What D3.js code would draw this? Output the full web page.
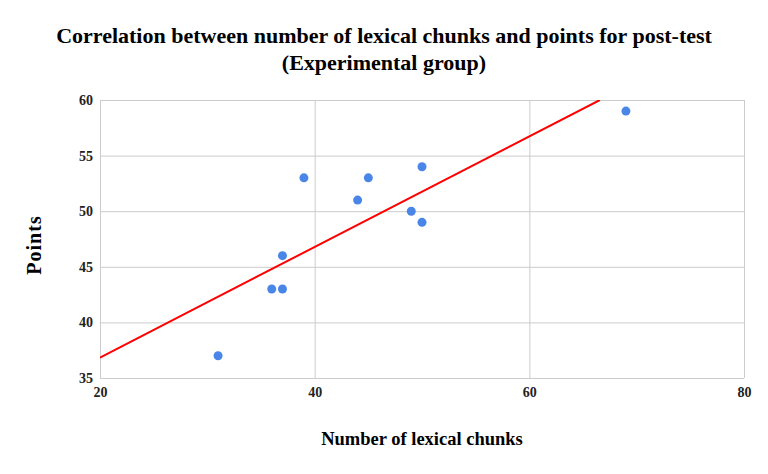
<!DOCTYPE html>
<html>
<head>
<meta charset="utf-8">
<script src="https://cdn.jsdelivr.net/npm/d3@7"></script>
<style>
  html, body { margin: 0; padding: 0; background: #fff; }
  svg { display: block; }
  text { font-family: "Liberation Serif", "DejaVu Serif", serif; fill: #000; }
</style>
</head>
<body>
<svg id="chart" width="768" height="474"></svg>
<script>
const chunks = [31, 36, 37, 37, 39, 44, 45, 49, 50, 50, 69];
const points = [37, 43, 43, 46, 53, 51, 53, 50, 49, 54, 59];
const xTicks = [20, 40, 60, 80];
const yTicks = [35, 40, 45, 50, 55, 60];
const titleLines = ["Correlation between number of lexical chunks and points for post-test", "(Experimental group)"];
const xLabel = "Number of lexical chunks";
const yLabel = "Points";

const W = 768, H = 474;
const m = { left: 100, right: 24, top: 100, bottom: 96 };
const svg = d3.select("#chart");

const x = d3.scaleLinear().domain([20, 80]).range([m.left, W - m.right]);
const y = d3.scaleLinear().domain([35, 60]).range([H - m.bottom, m.top]);

// grid
const grid = svg.append("g");
grid.selectAll("line.v").data(xTicks).join("line")
  .attr("x1", d => x(d) + 0.5).attr("x2", d => x(d) + 0.5)
  .attr("y1", y(60)).attr("y2", y(35))
  .attr("stroke", "#cccccc").attr("stroke-width", 1);
grid.selectAll("line.h").data(yTicks).join("line")
  .attr("y1", d => y(d) + 0.5).attr("y2", d => y(d) + 0.5)
  .attr("x1", x(20)).attr("x2", x(80))
  .attr("stroke", "#cccccc").attr("stroke-width", 1);

// axes labels via d3 axes
const xAxis = svg.append("g").attr("transform", `translate(0,${y(35)})`)
  .call(d3.axisBottom(x).tickValues(xTicks).tickSize(0).tickPadding(9));
const yAxis = svg.append("g").attr("transform", `translate(${x(20)},0)`)
  .call(d3.axisLeft(y).tickValues(yTicks).tickSize(0).tickPadding(7));
[xAxis, yAxis].forEach(a => {
  a.select(".domain").remove();
  a.attr("font-size", null).attr("font-family", null);
  a.selectAll("text").style("font-family", "'Liberation Serif', serif").style("font-size", "14px")
    .style("font-weight", "bold").style("fill", "#222");
});

// regression line
const n = chunks.length;
const mx = d3.mean(chunks), my = d3.mean(points);
let sxy = 0, sxx = 0;
for (let i = 0; i < n; i++) { sxy += (chunks[i] - mx) * (points[i] - my); sxx += (chunks[i] - mx) ** 2; }
const slope = sxy / sxx, intercept = my - slope * mx;
const xEnd = Math.min(80, (60 - intercept) / slope);
svg.append("defs").append("clipPath").attr("id", "clip").append("rect")
  .attr("x", x(20)).attr("y", y(60)).attr("width", x(80) - x(20)).attr("height", y(35) - y(60));
svg.append("line")
  .attr("clip-path", "url(#clip)")
  .attr("x1", x(20)).attr("y1", y(intercept + slope * 20))
  .attr("x2", x(xEnd)).attr("y2", y(intercept + slope * xEnd))
  .attr("stroke", "#ff0000").attr("stroke-width", 2);

// points
svg.append("g").selectAll("circle").data(chunks.map((c, i) => [c, points[i]])).join("circle")
  .attr("cx", d => x(d[0])).attr("cy", d => y(d[1])).attr("r", 4.5)
  .attr("fill", "#4a86e8");

// title
svg.append("text").attr("x", W / 2).attr("y", 43).attr("text-anchor", "middle")
  .attr("font-size", 22).attr("font-weight", "bold").text(titleLines[0]);
svg.append("text").attr("x", W / 2).attr("y", 70).attr("text-anchor", "middle")
  .attr("font-size", 22).attr("font-weight", "bold").text(titleLines[1]);

// axis titles
svg.append("text").attr("x", (x(20) + x(80)) / 2).attr("y", 445).attr("text-anchor", "middle")
  .attr("font-size", 18.5).attr("font-weight", "bold").attr("fill", "#222").text(xLabel);
svg.append("text").attr("transform", `translate(41,${(y(35) + y(60)) / 2 + 6}) rotate(-90)`)
  .attr("text-anchor", "middle").attr("font-size", 20).attr("letter-spacing", 1)
  .attr("font-weight", "bold").attr("fill", "#222").text(yLabel);
</script>
</body>
</html>
